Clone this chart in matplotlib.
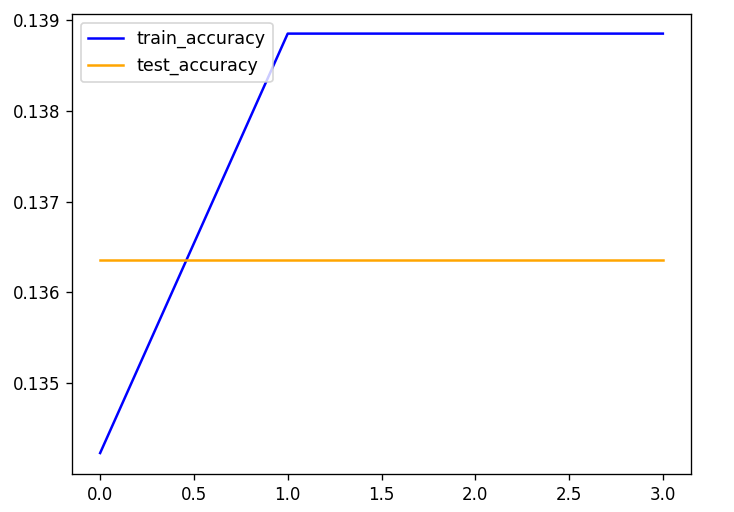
import matplotlib
matplotlib.use("Agg")
import matplotlib.pyplot as plt

epochs = [0, 1, 2, 3]
train_accuracy = [0.13423, 0.13885, 0.13885, 0.13885]
test_accuracy = [0.13636, 0.13636, 0.13636, 0.13636]

DPI = 120
fig = plt.figure(figsize=(734/DPI, 512/DPI), dpi=DPI)
ax = fig.add_axes([72/734, 1-474/512, (691-72)/734, (474-14)/512])
ax.plot(epochs, train_accuracy, color="blue", label="train_accuracy")
ax.plot(epochs, test_accuracy, color="orange", label="test_accuracy")
ax.set_ylim(0.133999, 0.139066)
ax.set_yticks([0.135, 0.136, 0.137, 0.138, 0.139])
ax.legend(loc="upper left", fontsize=10.5)
fig.savefig("out.png", dpi=DPI)
